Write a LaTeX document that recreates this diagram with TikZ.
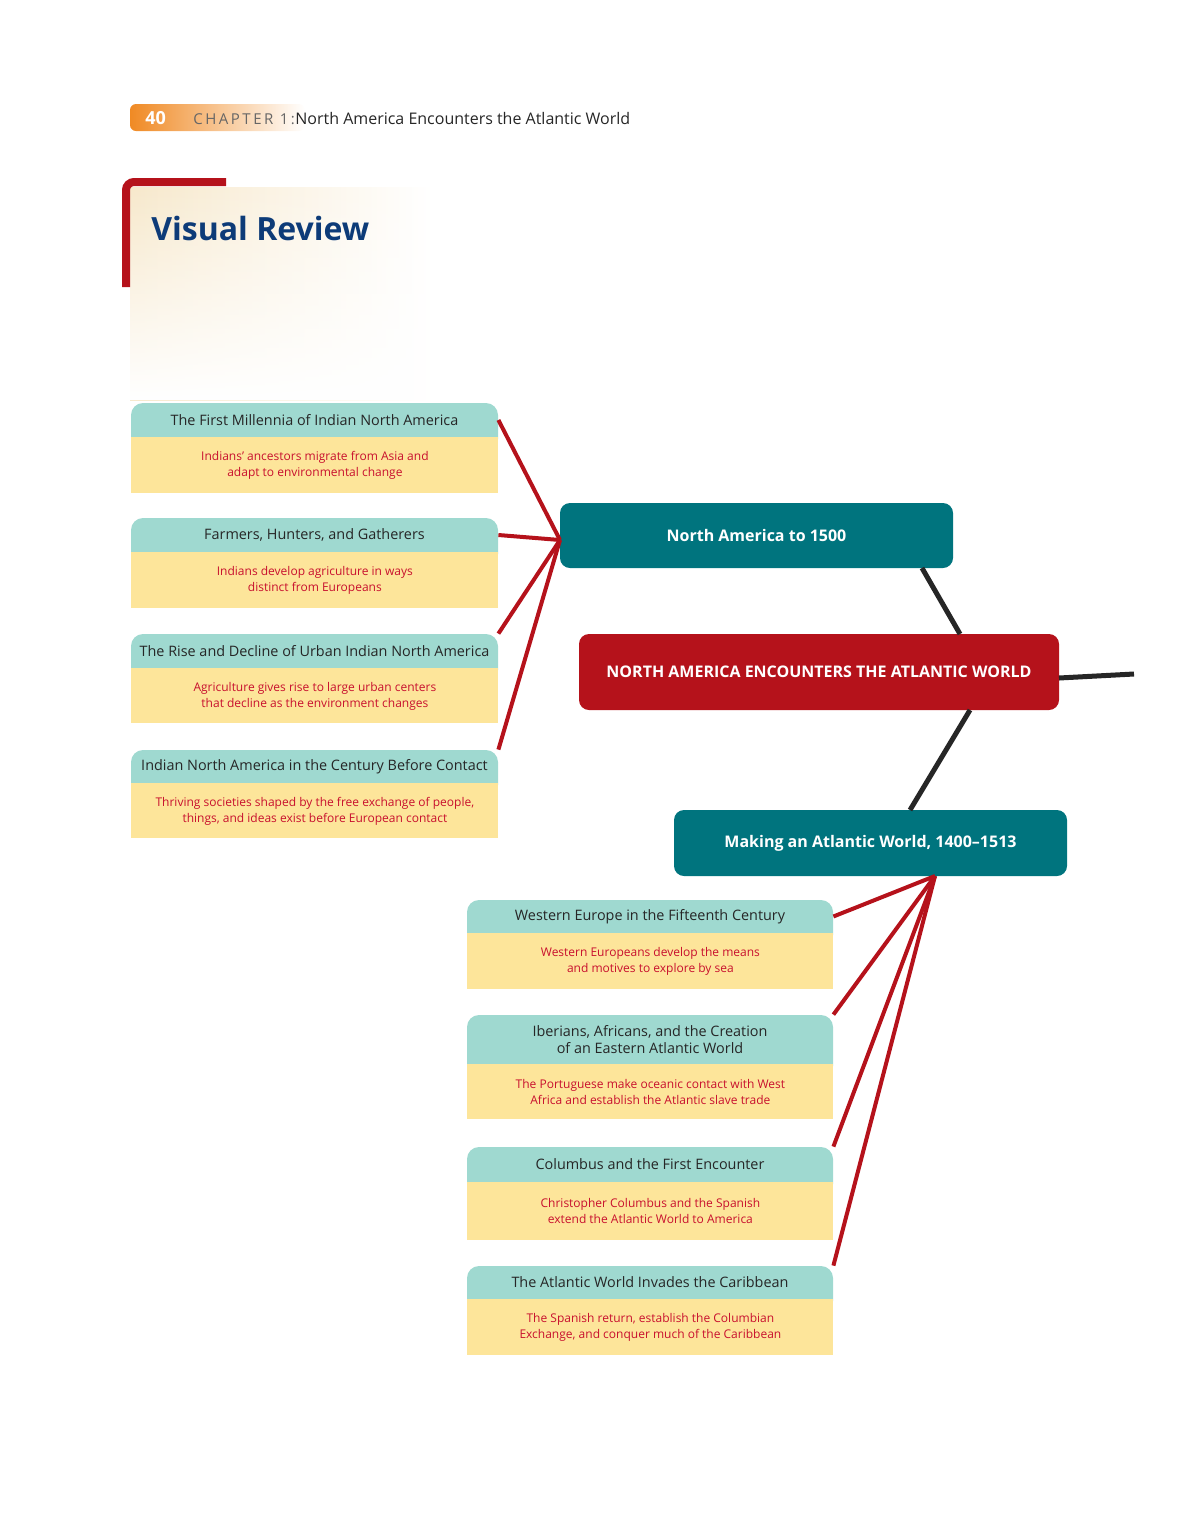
\documentclass[tikz,border=0pt]{standalone}
\usepackage{fontspec}
\setmainfont{Open Sans}
\usetikzlibrary{fadings}
\definecolor{hdr}{HTML}{9FD9D0}
\definecolor{bod}{HTML}{FDE59A}
\definecolor{tealb}{HTML}{00747E}
\definecolor{redb}{HTML}{B5121B}
\definecolor{redt}{HTML}{C8102E}
\definecolor{navy}{HTML}{0D3B78}
\definecolor{orng}{HTML}{F08A24}
\tikzset{
 hdrtext/.style={font=\fontsize{7.2}{8.6}\selectfont, text=black!85, align=center, inner sep=0},
 bodtext/.style={fill=bod, font=\fontsize{6}{8}\selectfont, text=redt, align=center, inner sep=0, anchor=north west},
 bigbox/.style={fill=tealb, rounded corners=5pt, text=white, font=\bfseries\fontsize{8}{10}\selectfont, inner sep=0},
 redline/.style={draw=redb, line width=2pt},
 blackline/.style={draw=black!85, line width=2.5pt}
}
\newcommand\mybox[8]{%
 \fill[hdr,rounded corners=6pt] (#2,#3) rectangle ++(#4,#5+14);
 \node[bodtext, minimum width=#4*0.5pt, minimum height=#6*0.5pt] (#1b) at (#2,#3+#5) {#8};
 \node[hdrtext, minimum width=#4*0.5pt, minimum height=#5*0.5pt] (#1h) at (#2+#4/2,#3+#5/2) {#7};
}
\begin{document}
\begin{tikzpicture}[x=0.5pt,y=-0.5pt]
\useasboundingbox (0,0) rectangle (1200,1527);
% header
\shade[left color=orng, right color=white, rounded corners=3pt] (130,104) rectangle (305,131);
\node[anchor=west, text=white, font=\bfseries\fontsize{9}{10}\selectfont, inner sep=0] (pg) at (145,118) {40};
\node[anchor=west, text=black!60, font=\fontsize{7.5}{9}\selectfont, inner sep=0] (ch) at (193,119) {C\,H\,A\,P\,T\,E\,R\, 1\,:};
\node[anchor=west, text=black!85, font=\fontsize{8}{9}\selectfont, inner sep=0] (ct) at (295,118) {North America Encounters the Atlantic World};
% visual review panel
\shade[left color=bod!70!brown!40!white, right color=white] (130,187) rectangle (432,400);
\fill[white, path fading=north] (130,187) rectangle (432,400);
\draw[redb, line width=4pt, rounded corners=4pt] (126,287) -- (126,182) -- (226,182);
\node[anchor=west, text=navy, font=\bfseries\fontsize{16}{18}\selectfont, inner sep=0] (vr) at (151,228) {Visual Review};
% left boxes
\mybox{a}{131}{403}{367}{34}{56}{The First Millennia of Indian North America}{Indians' ancestors migrate from Asia and\\adapt to environmental change}
\mybox{b}{131}{518}{367}{34}{56}{Farmers, Hunters, and Gatherers}{Indians develop agriculture in ways\\distinct from Europeans}
\mybox{c}{131}{634}{367}{34}{55}{The Rise and Decline of Urban Indian North America}{Agriculture gives rise to large urban centers\\that decline as the environment changes}
\mybox{d}{131}{750}{367}{33}{55}{Indian North America in the Century Before Contact}{Thriving societies shaped by the free exchange of people,\\things, and ideas exist before European contact}
% right boxes
\mybox{e}{467}{900}{366}{33}{56}{Western Europe in the Fifteenth Century}{Western Europeans develop the means\\and motives to explore by sea}
\mybox{f}{467}{1015}{366}{49}{55}{Iberians, Africans, and the Creation\\of an Eastern Atlantic World}{The Portuguese make oceanic contact with West\\Africa and establish the Atlantic slave trade}
\mybox{g}{467}{1147}{366}{35}{58}{Columbus and the First Encounter}{Christopher Columbus and the Spanish\\extend the Atlantic World to America}
\mybox{h}{467}{1266}{366}{33}{56}{The Atlantic World Invades the Caribbean}{The Spanish return, establish the Columbian\\Exchange, and conquer much of the Caribbean}
% central boxes
\node[bigbox, minimum width=196.5pt, minimum height=32.5pt] (na) at (756.5,535.5) {North America to 1500};
\node[bigbox, fill=redb, minimum width=240pt, minimum height=38pt] (main) at (819,672) {NORTH AMERICA ENCOUNTERS THE ATLANTIC WORLD};
\node[bigbox, minimum width=196.5pt, minimum height=33pt] (mk) at (870.5,843) {Making an Atlantic World, 1400–1513};
% connectors
\coordinate (naw) at (560,540);
\path[redline] (ah.east) -- (naw);
\path[redline] (bh.east) -- (naw);
\path[redline] (ch.north east) -- (naw);
\path[redline] (dh.north east) -- (naw);
\coordinate (mkp) at (935,876);
\path[redline] (eh.east) -- (mkp);
\path[redline] (fh.north east) -- (mkp);
\path[redline] (gh.north east) -- (mkp);
\path[redline] (hh.north east) -- (mkp);
\coordinate (nas) at (922,568);
\coordinate (mn) at (960,634);
\coordinate (ms) at (970,710);
\coordinate (mkn) at (910,810);
\coordinate (me) at (1059,678);
\coordinate (far) at (1134,674);
\path[blackline] (nas) -- (mn);
\path[blackline] (ms) -- (mkn);
\path[blackline] (me) -- (far);
\end{tikzpicture}
\end{document}
